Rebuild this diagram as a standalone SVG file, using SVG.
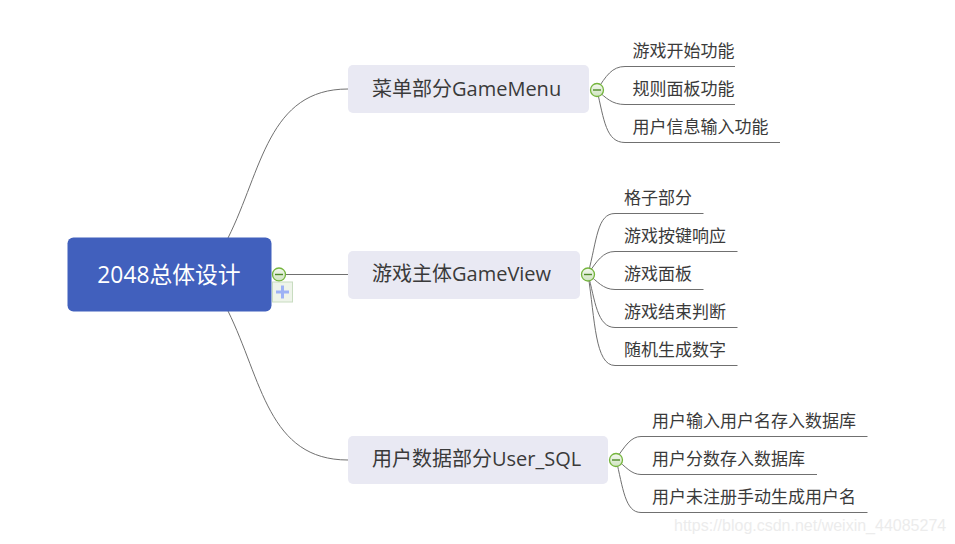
<svg xmlns="http://www.w3.org/2000/svg" width="955" height="544" viewBox="0 0 955 544">
<defs>
<linearGradient id="g" x1="0" y1="0" x2="0" y2="1"><stop offset="0" stop-color="#f4f8f0"/><stop offset="1" stop-color="#cfe3c0"/></linearGradient>
<g id="fold"><circle r="6.500" fill="url(#g)" stroke="#74b53c" stroke-width="1.300"/><rect x="-4" y="-0.700" width="8" height="1.400" fill="#4f8a2a"/></g>
</defs>
<style>
text{font-family:"Open Sans","Noto Sans CJK SC",sans-serif;fill:#3a3a3a}
.leaf{font-size:17px}
.mid{font-size:20px}
.c path{fill:none;stroke:#707070;stroke-width:1}
.box{fill:#e9e9f3}
</style>
<rect width="955" height="544" fill="#fff"/>
<g class="c" id="connectors">
<path d="M228 238C262 170 268 89 348 89"/>
<path d="M272 274.500H348"/>
<path d="M228 311C262 380 268 460 348 460"/>
<path d="M597 90C606 76 612 66.500 625 66.500H735"/>
<path d="M597 90C606 98 612 104.500 625 104.500H735"/>
<path d="M597 90C604 120 606 142.500 625 142.500H780"/>
<path d="M588 274C597 240 597 213.500 615 213.500H703.500"/>
<path d="M588 274C597 261 603 251.500 615 251.500H737.500"/>
<path d="M588 274C597 281 603 289.500 615 289.500H703.500"/>
<path d="M588 274C595 300 597 327.500 615 327.500H737.500"/>
<path d="M588 274C595 320 595 365.500 615 365.500H737.500"/>
<path d="M616 459C625 446 631 436.500 641 436.500H867.500"/>
<path d="M616 459C625 466 631 474.500 641 474.500H817"/>
<path d="M616 459C623 488 625 512.500 641 512.500H867.500"/>
</g>
<g id="root"><rect x="67.500" y="237.500" width="204" height="74" rx="6" fill="#4160bd"/><text x="169" y="283" text-anchor="middle" font-size="22.800" style="fill:#fff">2048总体设计</text>
<use href="#fold" x="279" y="274.500"/>
<rect x="272.500" y="282" width="20" height="20" fill="#eef4ea" stroke="#c8dcc0"/><path d="M282.500 285.500v13M276 292h13" stroke="#9db2f5" stroke-width="3"/></g>
<g id="n1"><rect class="box" x="348" y="65" width="241" height="48" rx="5"/><text class="mid" x="372" y="96">菜单部分GameMenu</text><use href="#fold" x="597" y="90"/></g>
<g id="n2"><rect class="box" x="348" y="251" width="232" height="48" rx="5"/><text class="mid" x="372" y="281">游戏主体GameView</text><use href="#fold" x="588" y="274.500"/></g>
<g id="n3"><rect class="box" x="348" y="436" width="260" height="48" rx="5"/><text class="mid" x="372" y="466">用户数据部分User_SQL</text><use href="#fold" x="616" y="460"/></g>
<g id="l1"><text class="leaf" x="632.500" y="57">游戏开始功能</text></g>
<g id="l2"><text class="leaf" x="632.500" y="95">规则面板功能</text></g>
<g id="l3"><text class="leaf" x="632.500" y="133">用户信息输入功能</text></g>
<g id="l4"><text class="leaf" x="624" y="204">格子部分</text></g>
<g id="l5"><text class="leaf" x="624" y="242">游戏按键响应</text></g>
<g id="l6"><text class="leaf" x="624" y="280">游戏面板</text></g>
<g id="l7"><text class="leaf" x="624" y="318">游戏结束判断</text></g>
<g id="l8"><text class="leaf" x="624" y="356">随机生成数字</text></g>
<g id="l9"><text class="leaf" x="652" y="427">用户输入用户名存入数据库</text></g>
<g id="l10"><text class="leaf" x="652" y="465">用户分数存入数据库</text></g>
<g id="l11"><text class="leaf" x="652" y="503">用户未注册手动生成用户名</text></g>
<text x="674" y="531" font-size="16" style="font-family:'Liberation Sans',sans-serif;fill:#ececec">https://blog.csdn.net/weixin_44085274</text>
</svg>
